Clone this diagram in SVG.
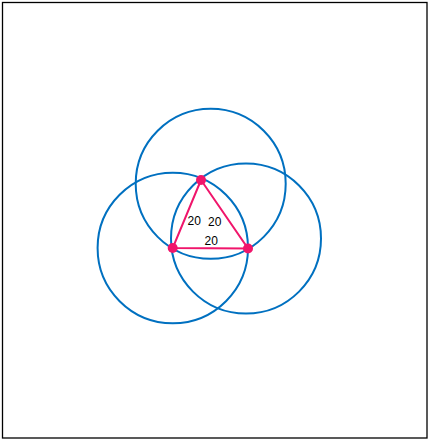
<svg xmlns="http://www.w3.org/2000/svg" width="431" height="442" viewBox="0 0 431 442">
<style>
.frame{fill:#fff;stroke:#000;stroke-width:1.3}
.circ{fill:none;stroke:#0070C0;stroke-width:2}
.tri{fill:none;stroke:#F0156B;stroke-width:2}
.dot{fill:#F0156B}
.lbl{font-family:"Liberation Sans",Arial,sans-serif;font-size:12px;fill:#000}
</style>
<rect class="frame" x="2.5" y="2.5" width="424.5" height="435.5"/>
<g id="circles">
<circle id="c-top" class="circ" cx="210.7" cy="183.8" r="75"/>
<circle id="c-left" class="circ" cx="172.8" cy="248" r="75.2"/>
<circle id="c-right" class="circ" cx="246" cy="238.6" r="75"/>
</g>
<g id="connectors">
<polygon class="tri" points="201,180 172.7,248 248,248.5"/>
</g>
<g id="n-top"><circle class="dot" cx="201" cy="180" r="5"/></g>
<g id="n-left"><circle class="dot" cx="172.7" cy="248" r="5"/></g>
<g id="n-right"><circle class="dot" cx="248" cy="248.5" r="5"/></g>
<g id="labels">
<text class="lbl" x="187.5" y="225">20</text>
<text class="lbl" x="208" y="225.5">20</text>
<text class="lbl" x="204.5" y="244.5">20</text>
</g>
</svg>
